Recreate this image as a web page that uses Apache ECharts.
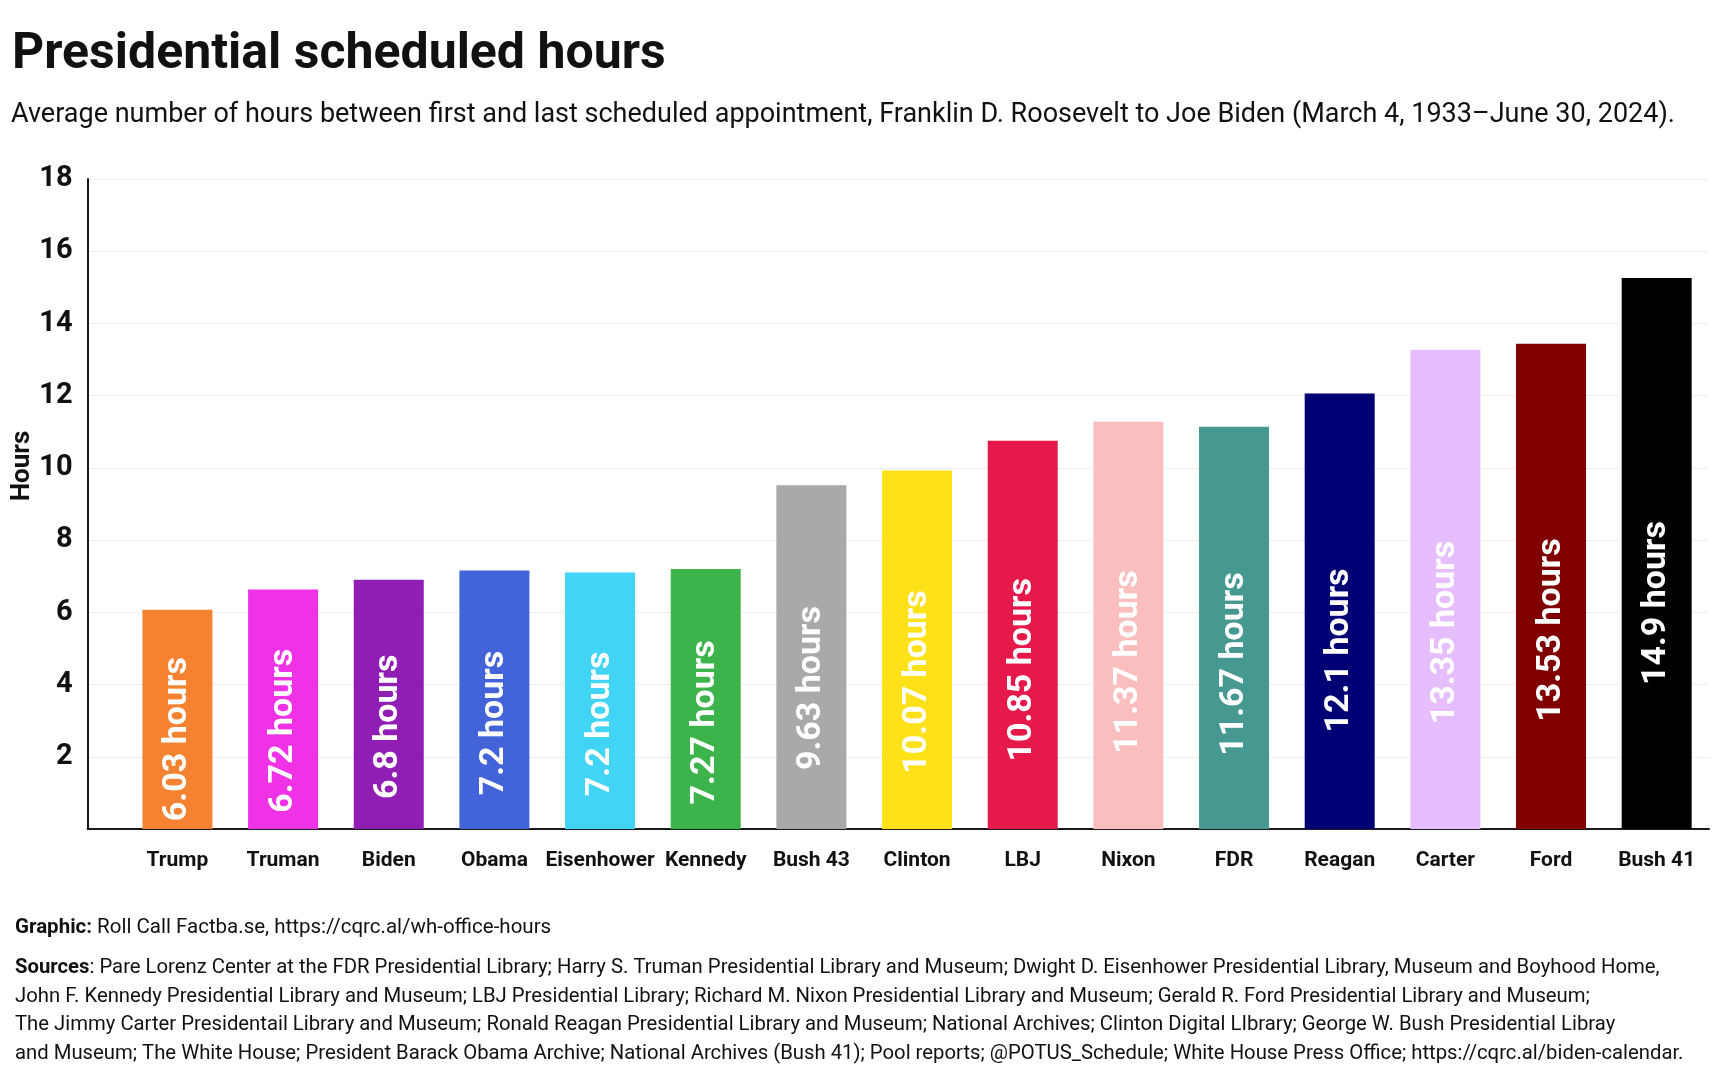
<!DOCTYPE html>
<html>
<head>
<meta charset="utf-8">
<style>
html,body{margin:0;padding:0;background:#fff;}
#chart{width:1717px;height:1080px;}
</style>
<script src="https://cdn.jsdelivr.net/npm/echarts@6/dist/echarts.min.js"></script>
</head>
<body>
<div id="chart"></div>
<script>
// ---- data ----
const presidents = ['Trump','Truman','Biden','Obama','Eisenhower','Kennedy','Bush 43','Clinton','LBJ','Nixon','FDR','Reagan','Carter','Ford','Bush 41'];
// bar heights as drawn in the picture
const barHours = [6.07, 6.63, 6.9, 7.16, 7.1, 7.2, 9.52, 9.93, 10.75, 11.28, 11.14, 12.06, 13.27, 13.44, 15.26];
// values printed on the bars
const labelHours = ['6.03','6.72','6.8','7.2','7.2','7.27','9.63','10.07','10.85','11.37','11.67','12.1','13.35','13.53','14.9'];
const barColors = ['#f58231','#f032e6','#911eb4','#4363d8','#42d4f4','#3cb44b','#a9a9a9','#ffe119','#e6194b','#fabebe','#469990','#000075','#e6beff','#800000','#000000'];
const yTicks = [0, 18, 2];

const FONT = 'Roboto, "Noto Sans", sans-serif';
const chart = echarts.init(document.getElementById('chart'));

const footerLines = [
  '{b|Sources}: Pare Lorenz Center at the FDR Presidential Library; Harry S. Truman Presidential Library and Museum; Dwight D. Eisenhower Presidential Library, Museum and Boyhood Home,',
  'John F. Kennedy Presidential Library and Museum; LBJ Presidential Library; Richard M. Nixon Presidential Library and Museum; Gerald R. Ford Presidential Library and Museum;',
  'The Jimmy Carter Presidentail Library and Museum; Ronald Reagan Presidential Library and Museum; National Archives; Clinton Digital LIbrary; George W. Bush Presidential Libray',
  'and Museum; The White House; President Barack Obama Archive; National Archives (Bush 41); Pool reports; @POTUS_Schedule; White House Press Office; https://cqrc.al/biden-calendar.'
];

const option = {
  backgroundColor: '#ffffff',
  animation: false,
  title: [
    {
      text: 'Presidential scheduled hours',
      left: 7, top: 25,
      textStyle: { fontFamily: FONT, fontWeight: 'bold', fontSize: 50, color: '#111' }
    },
    {
      text: 'Average number of hours between first and last scheduled appointment, Franklin D. Roosevelt to Joe Biden (March 4, 1933–June 30, 2024).',
      left: 6, top: 97,
      textStyle: { fontFamily: FONT, fontWeight: 'normal', fontSize: 27, color: '#111' }
    },
    {
      text: '{b|Graphic:} Roll Call Factba.se, https://cqrc.al/wh-office-hours',
      left: 10, top: 912,
      textStyle: { fontFamily: FONT, fontWeight: 'normal', fontSize: 20.5, color: '#111',
        rich: { b: { fontFamily: FONT, fontWeight: 'bold', fontSize: 20.5, color: '#111' } } }
    },
    {
      text: footerLines.join('\n'),
      left: 10, top: 949,
      textStyle: { fontFamily: FONT, fontWeight: 'normal', fontSize: 20.3, lineHeight: 28.5, color: '#111',
        rich: { b: { fontFamily: FONT, fontWeight: 'bold', fontSize: 20.3, lineHeight: 28.5, color: '#111' } } }
    }
  ],
  graphic: [
    {
      type: 'text', x: 22, y: 466, rotation: Math.PI / 2,
      style: { text: 'Hours', fontFamily: FONT, fontWeight: 'bold', fontSize: 26, fill: '#111', align: 'center', verticalAlign: 'middle' }
    }
  ],
  grid: [
    { left: 87.6, right: 8, top: 179, bottom: 251 },
    { left: 124.6, right: 7.5, top: 179, bottom: 251 }
  ],
  xAxis: [
    { gridIndex: 0, type: 'value', min: 0, max: 1, show: true,
      axisLine: { show: true, onZero: false, lineStyle: { color: '#1a1a1a', width: 2 } },
      axisTick: { show: false }, axisLabel: { show: false }, splitLine: { show: false } },
    { gridIndex: 1, type: 'category', data: presidents,
      axisLine: { show: false }, axisTick: { show: false },
      axisLabel: { margin: 21, fontFamily: FONT, fontWeight: 'bold', fontSize: 21, color: '#111', interval: 0 } }
  ],
  yAxis: [
    { gridIndex: 0, type: 'value', min: yTicks[0], max: yTicks[1], interval: yTicks[2],
      axisLine: { show: true, lineStyle: { color: '#1a1a1a', width: 2 } },
      axisTick: { show: false },
      axisLabel: { margin: 15, fontFamily: FONT, fontWeight: 'bold', fontSize: 29, color: '#111',
        formatter: v => (v === 0 ? '' : String(v)) },
      splitLine: { show: true, lineStyle: { color: '#efefef', width: 1 } } },
    { gridIndex: 1, type: 'value', min: yTicks[0], max: yTicks[1], interval: yTicks[2], show: false,
      splitLine: { show: false } }
  ],
  series: [
    {
      type: 'bar', xAxisIndex: 1, yAxisIndex: 1,
      barWidth: 70,
      data: barHours.map((v, i) => ({ value: v, itemStyle: { color: barColors[i] } })),
      label: {
        show: true,
        position: ['50%', '59%'],
        rotate: 90,
        align: 'center',
        verticalAlign: 'middle',
        fontFamily: FONT, fontWeight: 'bold', fontSize: 34, color: '#ffffff',
        formatter: p => labelHours[p.dataIndex] + ' hours'
      }
    }
  ]
};
chart.setOption(option);
</script>
</body>
</html>
